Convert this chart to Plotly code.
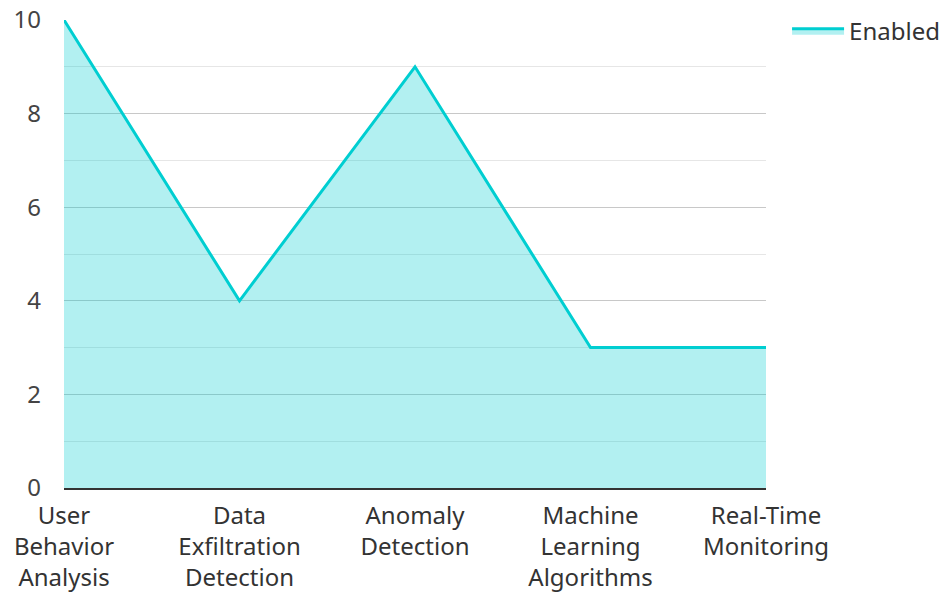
import plotly.graph_objects as go

categories = ["User<br>Behavior<br>Analysis", "Data<br>Exfiltration<br>Detection",
              "Anomaly<br>Detection", "Machine<br>Learning<br>Algorithms", "Real-Time<br>Monitoring"]
enabled = [10, 4, 9, 3, 3]
series_name = "Enabled"

fig = go.Figure()
fig.add_trace(go.Scatter(
    x=categories, y=enabled, name=series_name, mode="lines",
    line=dict(color="#00CED1", width=3), fill="tozeroy",
    fillcolor="rgba(0,206,209,0.3)",
))

fig.update_layout(
    width=947, height=594,
    margin=dict(l=56, r=189, t=12, b=114, autoexpand=False),
    paper_bgcolor="white", plot_bgcolor="white",
    font=dict(family="Noto Sans", size=24, color="#444"),
    showlegend=True,
    legend=dict(x=1.030, y=1.024, xanchor="left", yanchor="top", itemwidth=52,
                font=dict(size=24, color="#333"), bgcolor="rgba(0,0,0,0)"),
)
fig.update_xaxes(range=[0, 4], showgrid=False, showline=True, linecolor="#333",
                 linewidth=2, ticks="", automargin=False, ticklabelstandoff=5,
                 ticklabeloverflow="allow",
                 tickfont=dict(size=24, color="#333"))
fig.update_yaxes(range=[0, 10], dtick=2, showgrid=True, gridcolor="#c8c8c8",
                 gridwidth=1, zeroline=False, ticks="", ticklabelstandoff=22,
                 automargin=False, ticklabeloverflow="allow",
                 minor=dict(dtick=1, showgrid=True, gridcolor="#e6e6e6"),
                 tickfont=dict(size=24, color="#444"))

fig.write_html("out.html")
